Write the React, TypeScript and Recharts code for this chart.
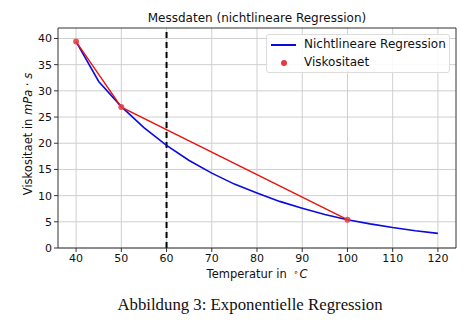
import React from "react";
import { LineChart, Line, XAxis, YAxis, CartesianGrid, ReferenceLine } from "recharts";

const regTemps = [40, 45, 50, 55, 60, 65, 70, 75, 80, 85, 90, 95, 100, 105, 110, 115, 120];
const regVisc = [39.4, 31.8, 27.0, 23.0, 19.6, 16.7, 14.3, 12.2, 10.5, 8.9, 7.6, 6.4, 5.4, 4.6, 3.9, 3.3, 2.8];
const measTemps = [40, 50, 100];
const measVisc = [39.4, 26.9, 5.4];
const xTicks = [40, 50, 60, 70, 80, 90, 100, 110, 120];
const yTicks = [0, 5, 10, 15, 20, 25, 30, 35, 40];
const markerTemp = 60;

const regData = regTemps.map((x, i) => ({ x, y: regVisc[i] }));
const measData = measTemps.map((x, i) => ({ x, y: measVisc[i] }));

const FONT = "DejaVu Sans";
const BLUE = "#0a0ae0";
const RED = "#e8140f";
const FRAME = "#333";

const Dot = (props: any) => {
  const { cx, cy } = props;
  if (cx == null || cy == null) return null;
  return <circle cx={cx} cy={cy} r={3} fill="#e8383d" fillOpacity={0.85} stroke="none" />;
};

export default function App() {
  return (
    <div style={{ position: "absolute", left: 0, top: 0, width: 474, height: 323, background: "#fff", fontFamily: FONT }}>
      <div style={{ position: "absolute", left: 58, top: 11, width: 398, textAlign: "center", fontSize: 12, lineHeight: "14px", color: "#111" }}>
        Messdaten (nichtlineare Regression)
      </div>
      <LineChart width={474} height={290} margin={{ top: 28, right: 18, bottom: 0, left: 0 }}>
        <CartesianGrid stroke="#cfcfcf" strokeWidth={1} horizontalValues={yTicks} verticalValues={xTicks} />
        <XAxis
          dataKey="x"
          type="number"
          domain={[36, 124]}
          ticks={xTicks}
          allowDataOverflow
          height={42}
          tickSize={4}
          tickMargin={2}
          stroke={FRAME}
          tick={{ fill: "#111", fontSize: 11, fontFamily: FONT }}
          label={{
            content: (p: any) => {
              const vb = p.viewBox || { x: 58, y: 248, width: 398 };
              return (
                <text x={vb.x + vb.width / 2} y={vb.y + 30} textAnchor="middle" fontSize={11.5} fontFamily={FONT} fill="#111">
                  Temperatur in <tspan dx={3} dy={-3} fontSize={8}>∘</tspan><tspan dx={1} dy={3} fontStyle="italic">C</tspan>
                </text>
              );
            },
          }}
        />
        <YAxis
          type="number"
          domain={[0, 42]}
          ticks={yTicks}
          allowDataOverflow
          width={58}
          tickSize={4}
          tickMargin={2}
          stroke={FRAME}
          tick={{ fill: "#111", fontSize: 11, fontFamily: FONT }}
          label={{
            content: () => {
              const cx = 28;
              const cy = 134;
              return (
                <text x={cx} y={cy} transform={`rotate(-90 ${cx} ${cy})`} textAnchor="middle" dominantBaseline="middle" fontSize={11.5} fontFamily={FONT} fill="#111">
                  Viskositaet in <tspan fontStyle="italic">mPa</tspan> · <tspan fontStyle="italic">s</tspan>
                </text>
              );
            },
          }}
        />
        <ReferenceLine y={42} stroke={FRAME} strokeWidth={1} ifOverflow="extendDomain" />
        <ReferenceLine x={124} stroke={FRAME} strokeWidth={1} ifOverflow="extendDomain" />
        <ReferenceLine x={markerTemp} stroke="#000" strokeWidth={2} strokeDasharray="6 4" />
        <Line data={regData} dataKey="y" type="linear" stroke={BLUE} strokeWidth={1.6} dot={false} isAnimationActive={false} />
        <Line data={measData} dataKey="y" type="linear" stroke={RED} strokeWidth={1.4} dot={<Dot />} isAnimationActive={false} />
      </LineChart>
      <div style={{ position: "absolute", left: 266, top: 34, width: 184, height: 39, border: "1px solid #dcdcdc", borderRadius: 3, background: "rgba(255,255,255,0.85)", boxSizing: "border-box", fontSize: 12, color: "#111" }}>
        <div style={{ position: "absolute", left: 4, top: 9, width: 25, height: 0, borderTop: `2px solid ${BLUE}` }} />
        <div style={{ position: "absolute", left: 37, top: 2, lineHeight: "15px", whiteSpace: "nowrap" }}>Nichtlineare Regression</div>
        <div style={{ position: "absolute", left: 14, top: 25, width: 6, height: 6, borderRadius: 3, background: "#e8383d" }} />
        <div style={{ position: "absolute", left: 37, top: 20, lineHeight: "15px", whiteSpace: "nowrap" }}>Viskositaet</div>
      </div>
      <div style={{ position: "absolute", left: 0, top: 295, width: 500, textAlign: "center", fontFamily: "Liberation Serif", fontSize: 16.8, lineHeight: "19px", color: "#111" }}>
        Abbildung 3: Exponentielle Regression
      </div>
    </div>
  );
}
